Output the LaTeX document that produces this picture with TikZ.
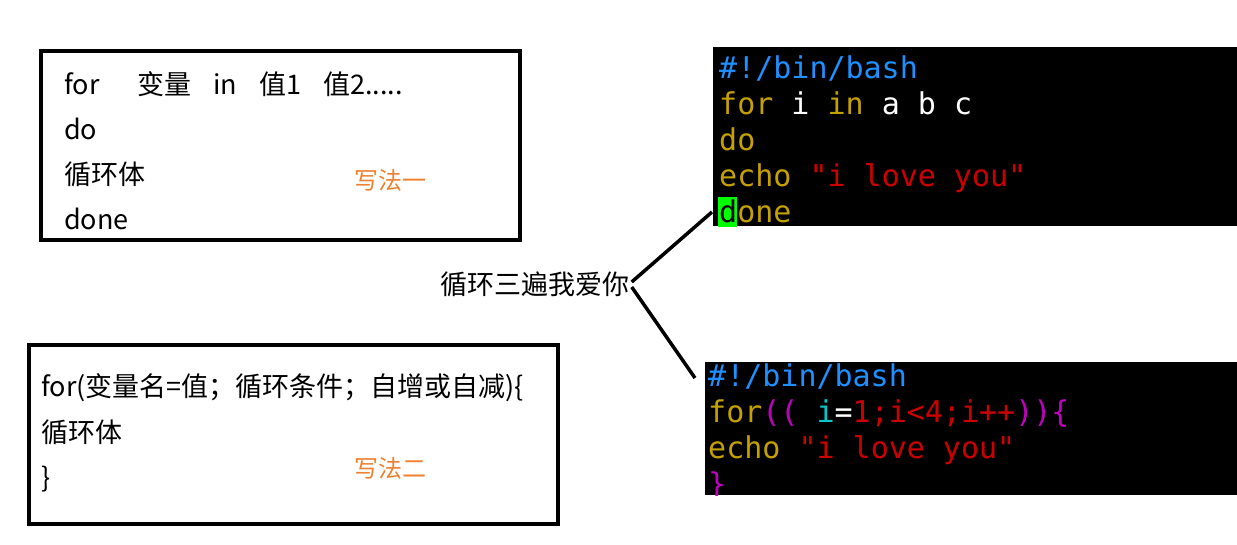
\documentclass[tikz,border=0pt]{standalone}
\usepackage{fontspec}
\setmainfont{Noto Sans CJK SC}
\newfontfamily\termfont{DejaVu Sans Mono}
\definecolor{tblue}{HTML}{1E90FF}
\definecolor{tyel}{HTML}{C4A000}
\definecolor{tred}{HTML}{CC0000}
\definecolor{tmag}{HTML}{C000C0}
\definecolor{tcyan}{HTML}{06C8C8}
\definecolor{tgreen}{HTML}{00FF00}
\definecolor{orng}{HTML}{F08030}
\begin{document}
\begin{tikzpicture}[x=1pt,y=-1pt,
  box/.style={draw=black,line width=4pt},
  txt/.style={anchor=base west,inner sep=0pt,font=\fontsize{27}{27}\selectfont},
  lbl/.style={anchor=center,inner sep=0pt,text=orng,font=\fontsize{24}{24}\selectfont},
  term/.style={anchor=base west,inner sep=0pt,font=\termfont\fontsize{30}{30}\selectfont}]
\useasboundingbox (0,0) rectangle (1237,545);
% box 1
\draw[box] (41,51) rectangle (520,240);
\node[txt] (a1) at (64,95) {for\hspace{38pt}变量\hspace{22pt}in\hspace{22pt}值1\hspace{22pt}值2.....};
\node[txt] (a2) at (64,140) {do};
\node[txt] (a3) at (64,185) {循环体};
\node[txt] (a4) at (64,230) {done};
\node[lbl] (w1) at (390,180) {写法一};
% box 2
\draw[box] (29,345) rectangle (558,524);
\node[txt] (b1) at (41,396) {for(变量名=值；循环条件；自增或自减)\{};
\node[txt] (b2) at (41,442) {循环体};
\node[txt] (b3) at (41,487) {\}};
\node[lbl] (w2) at (390,468) {写法二};
% center
\node[anchor=center,inner sep=0pt,font=\fontsize{27}{27}\selectfont] (c) at (535,284) {循环三遍我爱你};
\coordinate (t1) at (712,212);
\coordinate (t2) at (695,378);
\draw[line width=3.5pt] (c.east) ++(2,-2) -- (t1);
\draw[line width=3.5pt] (c.east) ++(2,3) -- (t2);
% terminal 1
\fill[black] (713,47) rectangle (1237,226);
\fill[tgreen] (718,197) rectangle (737,227);
\node[term,text=tblue] (l1) at (719,79) {\#!/bin/bash};
\node[term] (l2) at (719,115) {\textcolor{tyel}{for} \textcolor{white}{i} \textcolor{tyel}{in} \textcolor{white}{a b c}};
\node[term,text=tyel] (l3) at (719,151) {do};
\node[term] (l4) at (719,187) {\textcolor{tyel}{echo} \textcolor{tred}{"i love you"}};
\node[term] (l5) at (719,223) {\textcolor{black}{d}\textcolor{tyel}{one}};
% terminal 2
\fill[black] (705,362) rectangle (1237,495);
\begin{scope}
\clip (705,362) rectangle (1237,495);
\node[term,text=tblue] (m1) at (708,386) {\#!/bin/bash};
\node[term] (m2) at (708,422) {\textcolor{tyel}{for}\textcolor{tmag}{((} \textcolor{tcyan}{i}\textcolor{white}{=}\textcolor{tred}{1;i<4;i++}\textcolor{tmag}{))\{}};
\node[term] (m3) at (708,458) {\textcolor{tyel}{echo} \textcolor{tred}{"i love you"}};
\node[term,text=tmag] (m4) at (708,494) {\}};
\end{scope}
\end{tikzpicture}
\end{document}
